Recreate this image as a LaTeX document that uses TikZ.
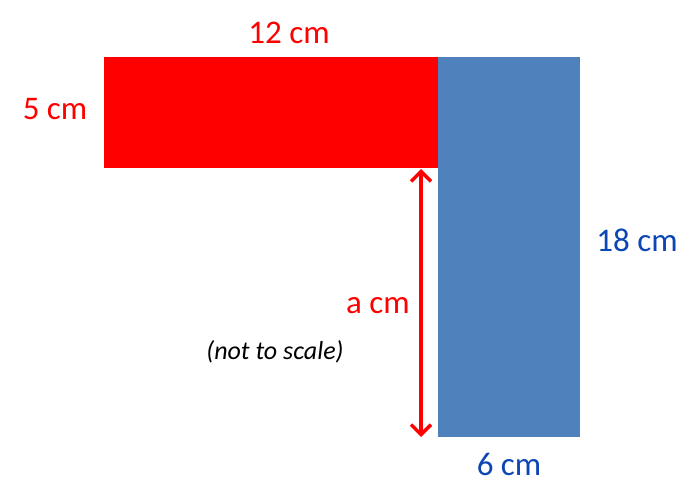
\documentclass[tikz,border=0pt]{standalone}
\usepackage{fontspec}
\setmainfont{Carlito}
\usetikzlibrary{arrows.meta}
\definecolor{shapered}{HTML}{FF0000}
\definecolor{shapeblue}{HTML}{4F81BD}
\definecolor{textblue}{HTML}{0C46B4}
\tikzset{
  lbl/.style={font=\fontsize{33}{36}\selectfont, inner sep=0pt},
  redlbl/.style={lbl, text=shapered},
  bluelbl/.style={lbl, text=textblue},
  note/.style={font=\fontsize{26}{30}\selectfont\itshape, inner sep=0pt, text=black},
  dimarrow/.style={draw=shapered, line width=3.5pt, {Straight Barb[length=10pt,width=20pt,line width=3.5pt]}-{Straight Barb[length=10pt,width=20pt,line width=3.5pt]}}
}
\begin{document}
\begin{tikzpicture}[x=1pt,y=-1pt]
\useasboundingbox (0,0) rectangle (700,492);
\fill[shapered] (104,57) rectangle (438,168);
\fill[shapeblue] (438,57) rectangle (580,437);
\coordinate (atop) at (421,169);
\coordinate (abot) at (421,437);
\draw[dimarrow] (atop) -- (abot);
\node[redlbl] (l12) at (289,33) {12 cm};
\node[redlbl] (l5) at (55,109) {5 cm};
\node[bluelbl] (l18) at (637,240) {18 cm};
\node[redlbl] (la) at (378,306) {a cm};
\node[note] (ln) at (275,352) {(not to scale)};
\node[bluelbl] (l6) at (509,464) {6 cm};
\end{tikzpicture}
\end{document}
